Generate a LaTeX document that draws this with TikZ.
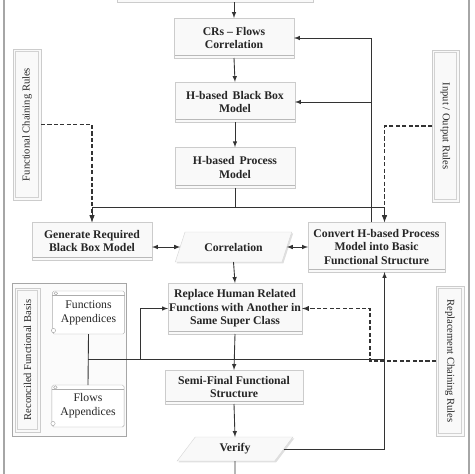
\documentclass[tikz,border=0pt]{standalone}
\usepackage{fontspec}
\setmainfont{Liberation Serif}
\usetikzlibrary{calc,shapes.geometric,shadows}

\begin{document}
\begin{tikzpicture}[x=0.03cm,y=-0.03cm,>=latex,
  every node/.style={outer sep=0pt,text=black!85},
  procbox/.style={draw=gray!40,fill=gray!5,align=center,inner sep=1pt,
    font=\bfseries\fontsize{10}{11.5}\selectfont,
    drop shadow={shadow xshift=1.2pt,shadow yshift=-1.2pt,opacity=0.3},
    path picture={\draw[gray!55,line width=1pt]
      ([yshift=2pt]path picture bounding box.south west) --
      ([yshift=2pt]path picture bounding box.south east);}},
  iobox/.style={trapezium,trapezium left angle=60,trapezium right angle=120,
    trapezium stretches=true,draw=gray!30,fill=gray!5,inner sep=1pt,
    font=\bfseries\fontsize{10}{11.5}\selectfont,
    drop shadow={shadow xshift=1.2pt,shadow yshift=-1.2pt,opacity=0.25}},
  rulebox/.style={draw=gray!40,fill=gray!5,inner sep=0pt,font=\small,
    drop shadow={shadow xshift=1.2pt,shadow yshift=-1.2pt,opacity=0.3},
    path picture={\draw[gray!35,line width=0.8pt]
      ([shift={(2.5pt,2.5pt)}]path picture bounding box.south west) rectangle
      ([shift={(-2.5pt,-2.5pt)}]path picture bounding box.north east);}},
  scrollbox/.style={draw=gray!65,fill=white,rounded corners=1.5pt,align=center,
    inner sep=1pt,font=\fontsize{10}{12}\selectfont},
  link/.style={line width=0.75pt,draw=black!80},
  rulelink/.style={link,line width=1pt,dash pattern=on 3.5pt off 2pt}]
  \useasboundingbox (0,0) rectangle (474,474);
  %\draw[help lines,step=1cm] (0,0) grid (474,474);

  %FRAME
  \draw[gray!70,line width=1.2pt] (4,-10) -- (4,484);
  \draw[gray!70,line width=1.2pt] (469,-10) -- (469,484);

  %MAIN CHAIN
  \node[procbox,minimum width=5.88cm,minimum height=0.9cm] (prev) at (215,-13) {};
  \node[procbox,minimum width=3.6cm,minimum height=1.2cm] (crs) at (234,38) {CRs -- Flows\\Correlation};
  \node[procbox,minimum width=3.6cm,minimum height=1.2cm] (bb) at (235,102) {H-based\, Black Box\\Model};
  \node[procbox,minimum width=3.6cm,minimum height=1.22cm] (pm) at (235,167.5) {H-based\, Process\\Model};
  \node[procbox,minimum width=3.6cm,minimum height=1.14cm] (gen) at (92,241) {Generate Required\\Black Box Model};
  \node[iobox,minimum width=3.51cm,minimum height=0.9cm] (cor) at (233.5,247) {Correlation};
  \node[procbox,minimum width=4.11cm,minimum height=1.5cm] (cv) at (376.5,247) {Convert H-based Process\\Model into Basic\\Functional Structure};
  \node[procbox,minimum width=4.02cm,minimum height=1.53cm] (rep) at (235,308.5) {Replace Human Related\\Functions with Another in\\Same Super Class};
  \node[procbox,minimum width=4.14cm,minimum height=1.02cm] (sf) at (234,387) {Semi-Final Functional\\Structure};
  \node[iobox,minimum width=3.48cm,minimum height=0.72cm] (ver) at (235,449) {Verify};

  %RULES
  \node[rulebox,minimum width=0.84cm,minimum height=4.53cm] (fcr) at (27,124.5) {\rotatebox{90}{Functional Chaining Rules}};
  \node[rulebox,minimum width=0.81cm,minimum height=4.56cm] (ior) at (445.5,126) {\rotatebox{-90}{Input / Output Rules}};
  \node[rulebox,minimum width=0.84cm,minimum height=4.5cm] (rcr) at (450,361) {\rotatebox{-90}{Replacement Chaining Rules}};

  %RECONCILED FUNCTIONAL BASIS
  \node[draw=gray!70,fill=gray!3,minimum width=3.42cm,minimum height=4.59cm] (rfb) at (69,359.5) {};
  \node[rulebox,minimum width=0.75cm,minimum height=4.32cm] (rfl) at (27.5,360) {\rotatebox{90}{Reconciled Functional Basis}};
  \node[scrollbox,minimum width=2.17cm,minimum height=1.29cm] (fa) at (88.5,312.5) {Functions\\Appendices};
  \node[scrollbox,minimum width=2.17cm,minimum height=1.26cm] (fl) at (88,406) {Flows\\Appendices};
  \foreach \s in {fa,fl}{
    \draw[gray!65] ([yshift=-4pt]\s.north west) -- ([yshift=-4pt]\s.north east);
    \draw[gray!65,fill=white] ([xshift=3pt,yshift=-2pt]\s.north west) circle (1.5pt);
    \draw[gray!65,fill=white] ([xshift=1pt,yshift=3pt]\s.south west) circle (1.8pt);
  }

  %CONNECTORS
  \draw[link,->] (crs.north |- prev.south) -- (crs.north);
  \draw[link,->] (crs.south) -- (bb.north);
  \draw[link,->] (bb.south) -- (pm.north);
  \coordinate (split) at (235,207);
  \coordinate (cvin) at ($(cv.north)+(8,0)$);
  \coordinate (cvout) at ($(cv.south)+(8,0)$);
  \coordinate (fb) at ($(cv.north)+(-5,0)$);
  \draw[link] (pm.south) -- (split);
  \draw[link,->] (split) -| (gen.north);
  \draw[link,->] (split) -| (cvin);
  \draw[link,->] (fb) |- (crs.east);
  \draw[link,->] (fb |- bb.east) -- (bb.east);
  \draw[rulelink,->] (fcr.east) -| (gen.north);
  \draw[rulelink,->] (ior.west) -| (cvin);
  \draw[link,<->] (cor.west -| gen.east) -- (cor.west);
  \draw[link,<->] (cor.east) -- (cor.east -| cv.west);
  \draw[link,->] (cor.south) -- (rep.north);
  \draw[link,->] (rep.south) -- (sf.north);
  \draw[link,->] (sf.south) -- (ver.north);
  %BASIS BUS
  \draw[link] (fa.south) -- (fl.north);
  \coordinate (bus) at ($(fa.south)!0.5!(fl.north)$);
  \coordinate (br) at (140,0);
  \draw[link] (bus) -- (bus -| cvout);
  \draw[link,->] (bus -| br) |- (rep.west);
  \coordinate (rbend) at (370,0);
  \draw[rulelink,->] (rcr.west) -| (rbend |- rep.east) -- (rep.east);
  \draw[link,->] (ver.east) -| (cvout);
  \coordinate (bottom) at (235,480);
  \draw[link] (ver.south) -- (bottom);
\end{tikzpicture}
\end{document}
